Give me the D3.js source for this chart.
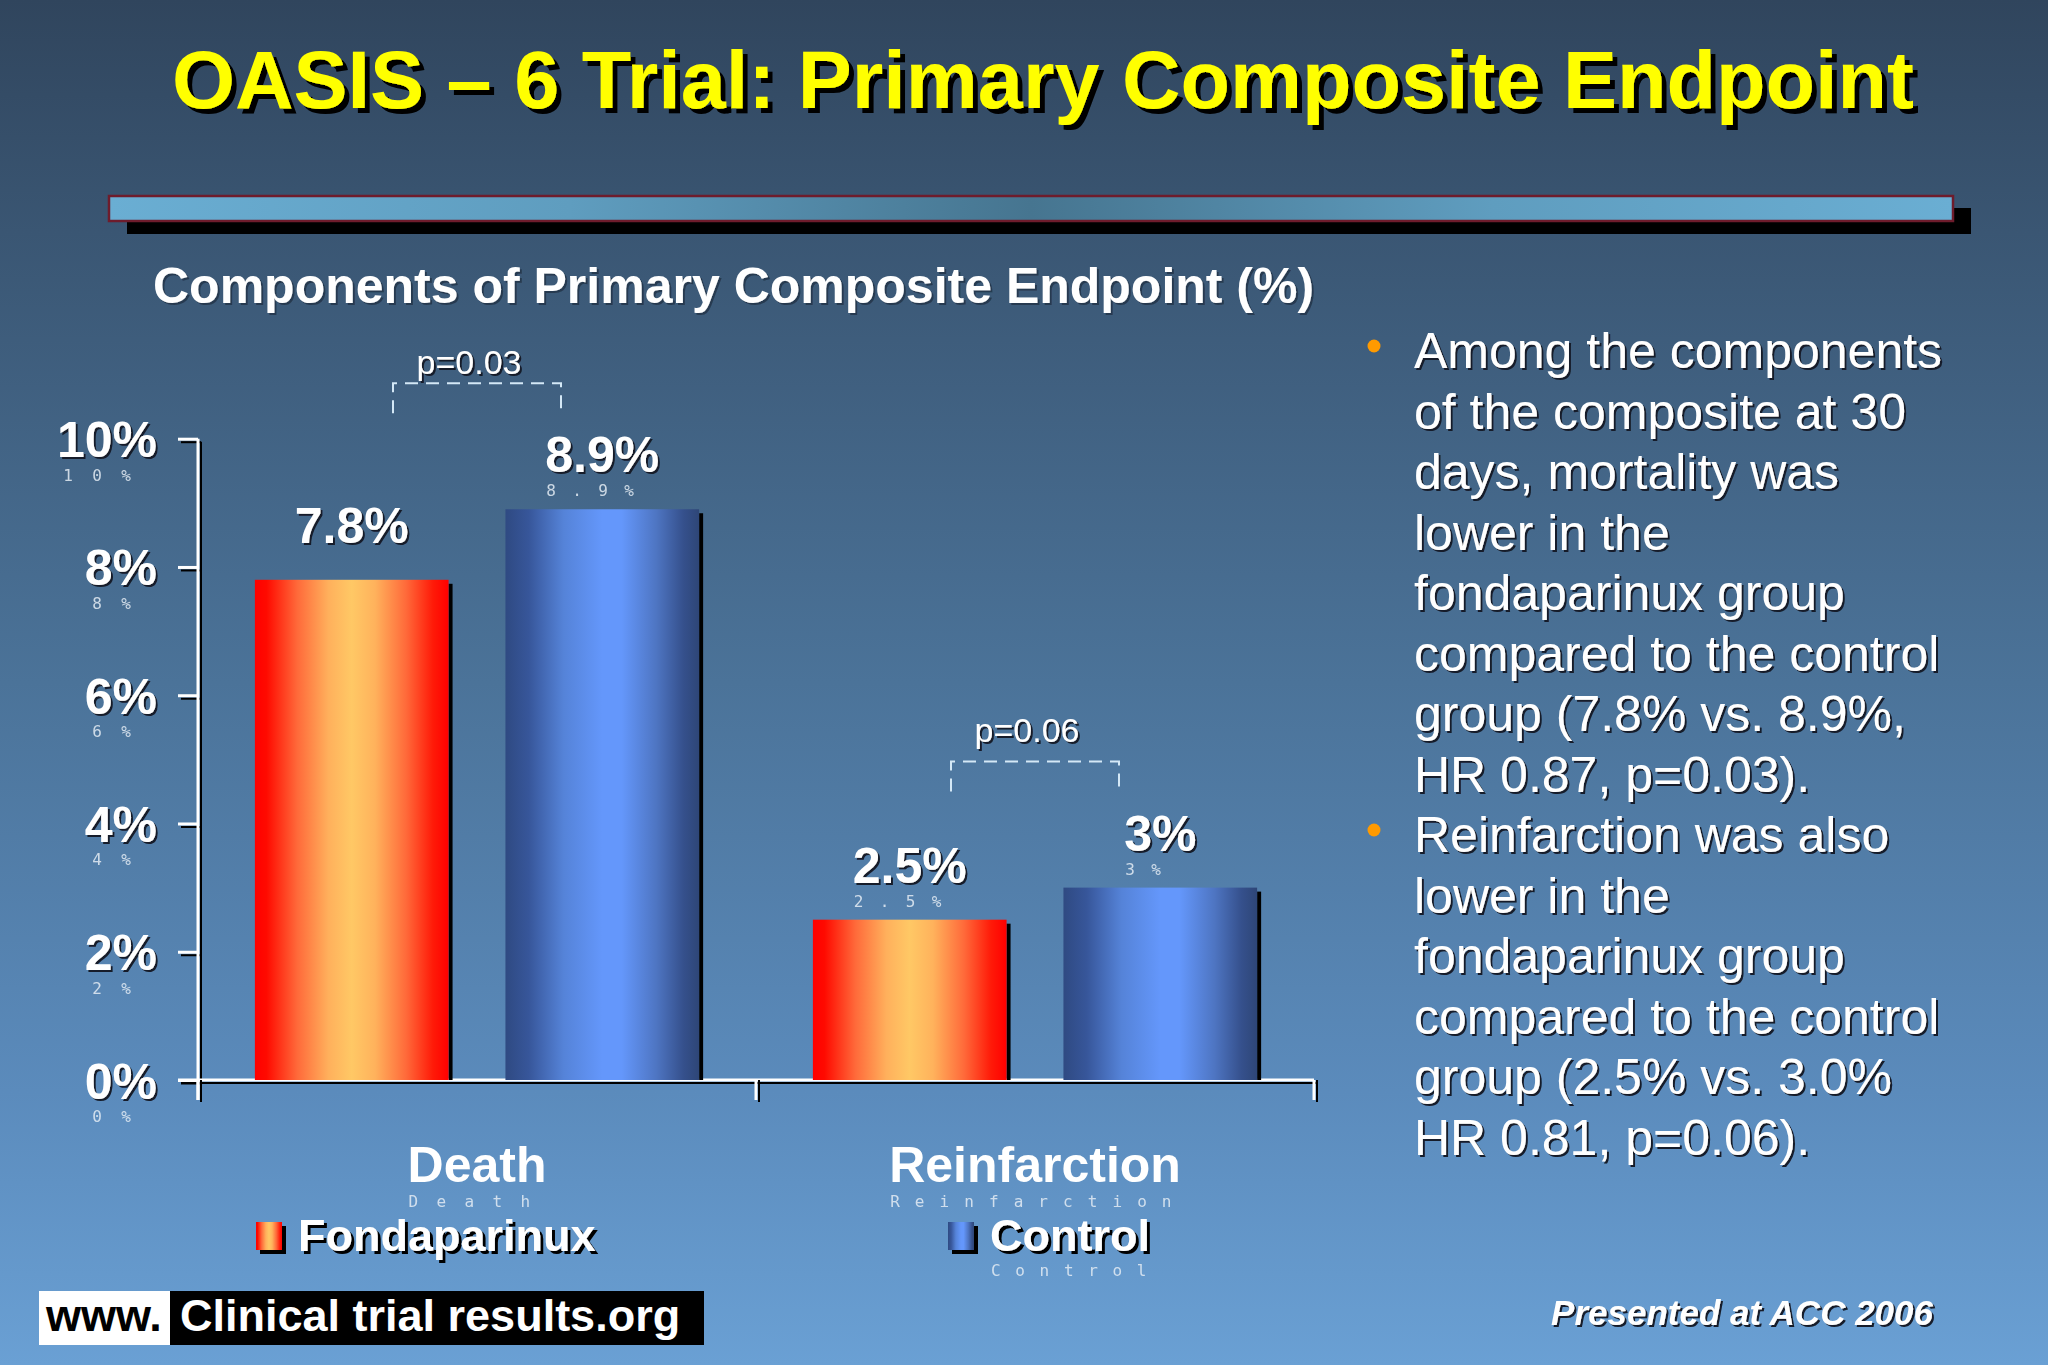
<!DOCTYPE html>
<html><head><meta charset="utf-8">
<script src="https://cdn.jsdelivr.net/npm/d3@7"></script>
<style>html,body{margin:0;padding:0;background:#3b5878;} svg{display:block}</style>
</head><body>
<svg id="c" width="2048" height="1365"></svg>
<script>
// ---------- data ----------
const categories = ["Death", "Reinfarction"];
const seriesNames = ["Fondaparinux", "Control"];
const fondaparinuxValues = [7.8, 2.5];
const controlValues = [8.9, 3.0];
const fondaparinuxLabels = ["7.8%", "2.5%"];
const controlLabels = ["8.9%", "3%"];
const fondaparinuxGhost = [false, true];
const controlGhost = [true, true];
const pValueLabels = ["p=0.03", "p=0.06"];
const yTickValues = [0, 2, 4, 6, 8, 10];
const yTickLabels = ["0%", "2%", "4%", "6%", "8%", "10%"];
const titleText = "OASIS \u2013 6 Trial: Primary Composite Endpoint";
const subtitleText = "Components of Primary Composite Endpoint (%)";
const bulletOne = ["Among the components", "of the composite at 30", "days, mortality was", "lower in the",
  "fondaparinux group", "compared to the control", "group (7.8% vs. 8.9%,", "HR 0.87, p=0.03)."];
const bulletTwo = ["Reinfarction was also", "lower in the", "fondaparinux group",
  "compared to the control", "group (2.5% vs. 3.0%", "HR 0.81, p=0.06)."];
const logoPrefix = "www.";
const logoText = "Clinical trial results.org";
const presentedText = "Presented at ACC 2006";

// ---------- setup ----------
const FONT = "'Liberation Sans', Arial, sans-serif";
const GHOST_FONT = "'DejaVu Sans Mono', monospace";
const svg = d3.select("#c");
const defs = svg.append("defs");

function linGrad(id, stops, vertical) {
  const g = defs.append("linearGradient").attr("id", id)
    .attr("x1", 0).attr("y1", 0).attr("x2", vertical ? 0 : 1).attr("y2", vertical ? 1 : 0);
  stops.forEach(s => g.append("stop").attr("offset", s[0]).attr("stop-color", s[1]));
}
function shadowFilter(id, dx, dy, color) {
  const f = defs.append("filter").attr("id", id).attr("x", "-10%").attr("y", "-30%").attr("width", "130%").attr("height", "170%");
  f.append("feDropShadow").attr("dx", dx).attr("dy", dy).attr("stdDeviation", 0.4)
    .attr("flood-color", color).attr("flood-opacity", 1);
}
linGrad("bg", [[0, "#30455d"], [0.17, "#3a5673"], [0.5, "#4b7399"], [0.8, "#5b8bbc"], [1, "#6aa0d4"]], true);
linGrad("gFonda", [[0, "#ff0000"], [0.06, "#ff0a00"], [0.22, "#ff6a3a"], [0.38, "#ffb05c"], [0.5, "#ffc865"],
  [0.62, "#ffb25c"], [0.78, "#ff6a3a"], [0.92, "#ff1a08"], [1, "#ff0000"]]);
linGrad("gControl", [[0, "#2f4a82"], [0.12, "#37569a"], [0.3, "#5583d8"], [0.5, "#6497fb"], [0.6, "#6497fb"],
  [0.78, "#4e75c2"], [0.92, "#35508c"], [1, "#2e4677"]]);
linGrad("gHbar", [[0, "#6aaed3"], [0.25, "#5f9dbf"], [0.5, "#467590"], [0.75, "#5f9dbf"], [1, "#6aaed3"]]);
shadowFilter("shTitle", 5, 5, "#000");
shadowFilter("shText", 2, 2, "#141e2c");
shadowFilter("shSoft", 2, 2, "rgba(20,30,45,0.55)");
shadowFilter("shBlack", 3, 3, "#000");

svg.append("rect").attr("width", 2048).attr("height", 1365).attr("fill", "url(#bg)");

function txt(parent, x, y, str, o) {
  const t = parent.append("text").attr("x", x).attr("y", y).text(str)
    .attr("font-family", o.family || FONT).attr("font-size", o.size).attr("font-weight", o.weight || "normal")
    .attr("font-style", o.style || "normal").attr("text-anchor", o.anchor || "start").attr("fill", o.fill || "#fff");
  if (o.filter) t.attr("filter", `url(#${o.filter})`);
  return t;
}
function ghost(parent, x, y, str, step, anchorEnd) {
  const cw = 0.602 * 16;
  const w = (str.length - 1) * step + cw;
  const sx = anchorEnd ? x - w : x;
  parent.append("text").attr("x", sx).attr("y", y).text(str)
    .attr("font-family", GHOST_FONT).attr("font-size", 16).attr("fill", "#e4ecf4").attr("opacity", 0.85)
    .attr("letter-spacing", step - cw);
}

// ---------- title & header bar ----------
txt(svg, 1043, 108, titleText, {size: 81, weight: "bold", anchor: "middle", fill: "#ffff00", filter: "shTitle"});
svg.append("rect").attr("x", 127).attr("y", 208).attr("width", 1844).attr("height", 26).attr("fill", "#000");
svg.append("rect").attr("x", 109).attr("y", 196).attr("width", 1844).attr("height", 25)
  .attr("fill", "url(#gHbar)").attr("stroke", "#6e1c2c").attr("stroke-width", 2.5);
txt(svg, 153, 303, subtitleText, {size: 50, weight: "bold", filter: "shSoft"});

// ---------- chart ----------
const y = d3.scaleLinear().domain([0, 10]).range([1080, 438.7]);
const x0 = d3.scaleBand().domain(categories).range([198, 1314]).padding(0);
const x1 = d3.scaleBand().domain(seriesNames).range([0, x0.bandwidth()]).paddingInner(0.227).paddingOuter(0.227);
const gradFor = {"Fondaparinux": "url(#gFonda)", "Control": "url(#gControl)"};
const pLabelGap = [9, 20];

const rows = categories.map((c, i) => ({
  category: c,
  p: pValueLabels[i],
  gap: pLabelGap[i],
  bars: [
    {series: "Fondaparinux", value: fondaparinuxValues[i], label: fondaparinuxLabels[i], ghost: fondaparinuxGhost[i]},
    {series: "Control", value: controlValues[i], label: controlLabels[i], ghost: controlGhost[i]}
  ]
}));

const y0 = y(0);
const axisX = x0.range()[0];
const axisRight = x0.range()[1];

// axis shadows
svg.append("line").attr("x1", axisX + 3).attr("x2", axisX + 3).attr("y1", y(10) + 3).attr("y2", y0 + 22)
  .attr("stroke", "#000").attr("stroke-width", 2);
svg.append("line").attr("x1", axisX - 17).attr("x2", axisRight + 3).attr("y1", y0 + 3).attr("y2", y0 + 3)
  .attr("stroke", "#000").attr("stroke-width", 2);

// y axis
const yAxis = d3.axisLeft(y).tickValues(yTickValues).tickFormat((d, i) => yTickLabels[i]).tickSize(20).tickPadding(21);
const yG = svg.append("g").attr("transform", `translate(${axisX},0)`).call(yAxis);
yG.select(".domain").remove();
yG.selectAll(".tick").insert("line", ":first-child")
  .attr("x1", -17).attr("x2", 3).attr("y1", 3).attr("y2", 3).attr("stroke", "#000").attr("stroke-width", 2);
yG.selectAll(".tick line").filter(function() { return !this.getAttribute("stroke") || this.getAttribute("stroke") === "currentColor"; })
  .attr("stroke", "#fff").attr("stroke-width", 3);
yG.selectAll("text").attr("fill", "#fff").attr("font-size", 50).attr("font-weight", "bold").attr("font-family", FONT)
  .attr("dy", "0.36em").attr("filter", "url(#shText)");
yTickValues.forEach((v, i) => ghost(svg, 131, y(v) + 42, yTickLabels[i], 29, true));

svg.append("line").attr("x1", axisX).attr("x2", axisX).attr("y1", y(10)).attr("y2", y0 + 20)
  .attr("stroke", "#fff").attr("stroke-width", 3);
svg.append("line").attr("x1", axisX - 20).attr("x2", axisRight).attr("y1", y0).attr("y2", y0)
  .attr("stroke", "#fff").attr("stroke-width", 3);
const sepX = categories.map(c => x0(c)).concat([axisRight]);
sepX.forEach(sx => {
  svg.append("line").attr("x1", sx + 3).attr("x2", sx + 3).attr("y1", y0).attr("y2", y0 + 22).attr("stroke", "#000").attr("stroke-width", 2);
  svg.append("line").attr("x1", sx).attr("x2", sx).attr("y1", y0).attr("y2", y0 + 20).attr("stroke", "#fff").attr("stroke-width", 3);
});

// x axis category labels
const xAxis = d3.axisBottom(x0).tickSize(0).tickPadding(66);
const xG = svg.append("g").attr("transform", `translate(0,${y0})`).call(xAxis);
xG.select(".domain").remove();
xG.selectAll("text").attr("fill", "#fff").attr("font-size", 50).attr("font-weight", "bold").attr("font-family", FONT);
const catGhostStep = [28, 24.7];
xG.selectAll("text").each(function(d, i) {
  const w = this.getComputedTextLength();
  ghost(svg, x0(d) + x0.bandwidth() / 2 - w / 2 + 1, y0 + 127, d, catGhostStep[i], false);
});

// bars
const groups = svg.selectAll("g.cat").data(rows).join("g").attr("class", "cat")
  .attr("transform", d => `translate(${x0(d.category)},0)`);
groups.selectAll("rect.sh").data(d => d.bars).join("rect").attr("class", "sh")
  .attr("x", d => x1(d.series) + x1.bandwidth()).attr("y", d => y(d.value) + 4)
  .attr("width", 4).attr("height", d => y0 - y(d.value) - 4).attr("fill", "#000");
groups.selectAll("rect.bar").data(d => d.bars).join("rect").attr("class", "bar")
  .attr("x", d => x1(d.series)).attr("y", d => y(d.value))
  .attr("width", x1.bandwidth()).attr("height", d => y0 - y(d.value)).attr("fill", d => gradFor[d.series]);

rows.forEach(r => {
  const gx = x0(r.category);
  r.bars.forEach(b => {
    const cx = gx + x1(b.series) + x1.bandwidth() / 2;
    const by = y(b.value) - 37;
    const t = txt(svg, cx, by, b.label, {size: 50, weight: "bold", anchor: "middle", filter: "shText"});
    if (b.ghost) {
      const w = t.node().getComputedTextLength();
      ghost(svg, cx - w / 2 + 1, by + 24, b.label, 26, false);
    }
  });
  // p-value bracket
  const cx = gx + x0.bandwidth() / 2;
  const top = y(d3.max(r.bars, b => b.value)) - 126;
  svg.append("path")
    .attr("d", `M${cx - 84},${top + 30}V${top}H${cx + 84}V${top + 30}`)
    .attr("fill", "none").attr("stroke", "#d4e8f6").attr("stroke-width", 2).attr("stroke-dasharray", "13,8");
  txt(svg, cx - 8, top - r.gap, r.p, {size: 34, anchor: "middle", filter: "shText"});
});

// legend
const legendX = [256, 948];
const legendGhost = [false, true];
seriesNames.forEach((s, i) => {
  const lx = legendX[i];
  svg.append("rect").attr("x", lx + 4).attr("y", 1226).attr("width", 26).attr("height", 28).attr("fill", "#000");
  svg.append("rect").attr("x", lx).attr("y", 1222).attr("width", 26).attr("height", 28).attr("fill", gradFor[s]);
  txt(svg, lx + 42, 1251, s, {size: 45, weight: "bold", filter: "shBlack"});
  if (legendGhost[i]) ghost(svg, lx + 43, 1276, s, 24.3, false);
});

// bullets
const lineH = 60.5;
const bx = 1414, by0 = 368;
const allLines = bulletOne.concat(bulletTwo);
allLines.forEach((ln, i) => {
  txt(svg, bx, by0 + i * lineH, ln, {size: 50, filter: "shText"});
});
[0, bulletOne.length].forEach(i => {
  svg.append("circle").attr("cx", 1374).attr("cy", by0 + i * lineH - 22).attr("r", 6.5).attr("fill", "#ff9a00");
});

// logo
svg.append("rect").attr("x", 39).attr("y", 1291).attr("width", 131).attr("height", 54).attr("fill", "#fff");
svg.append("rect").attr("x", 170).attr("y", 1291).attr("width", 534).attr("height", 54).attr("fill", "#000");
txt(svg, 46, 1331, logoPrefix, {size: 45, weight: "bold", fill: "#000"});
txt(svg, 180, 1331, logoText, {size: 45, weight: "bold"});

txt(svg, 1933, 1325, presentedText, {size: 35, weight: "bold", style: "italic", anchor: "end", filter: "shText"});
</script>
</body></html>
